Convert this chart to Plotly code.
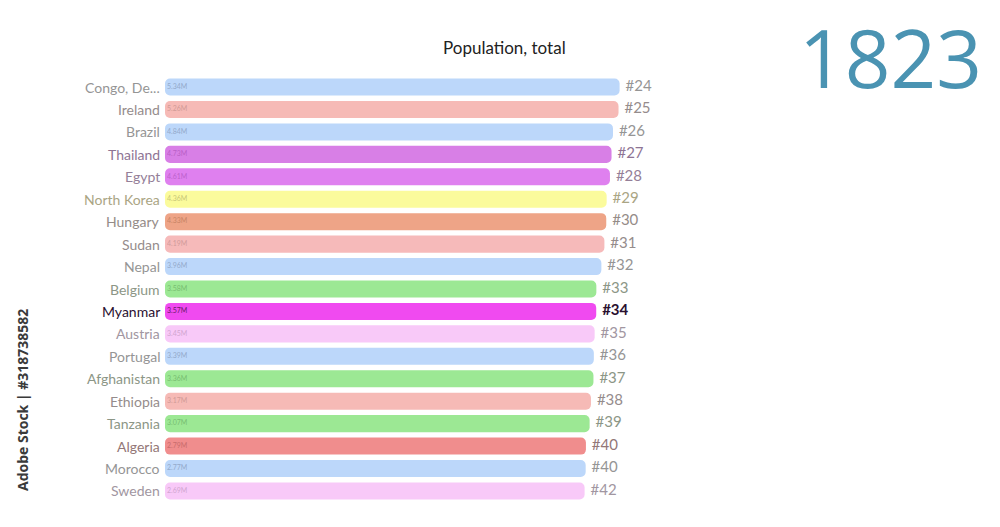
import plotly.graph_objects as go

countries = ["Congo, De...", "Ireland", "Brazil", "Thailand", "Egypt", "North Korea", "Hungary",
             "Sudan", "Nepal", "Belgium", "Myanmar", "Austria", "Portugal", "Afghanistan",
             "Ethiopia", "Tanzania", "Algeria", "Morocco", "Sweden"]
population_m = [5.34, 5.26, 4.84, 4.73, 4.61, 4.36, 4.33, 4.19, 3.96, 3.58, 3.57, 3.45, 3.39, 3.36,
                3.17, 3.07, 2.79, 2.77, 2.69]
value_labels = ["5.34M", "5.26M", "4.84M", "4.73M", "4.61M", "4.36M", "4.33M", "4.19M", "3.96M",
                "3.58M", "3.57M", "3.45M", "3.39M", "3.36M", "3.17M", "3.07M", "2.79M", "2.77M", "2.69M"]
ranks = ["#24", "#25", "#26", "#27", "#28", "#29", "#30", "#31", "#32", "#33", "#34", "#35", "#36",
         "#37", "#38", "#39", "#40", "#40", "#42"]
highlight = "Myanmar"
year = "1823"
title = "Population, total"

bar_colors = ["#bcd7fa", "#f6bab6", "#bcd7fa", "#d87fe6", "#df80ef", "#fbfb9c", "#eea487",
              "#f6baba", "#bcd7fa", "#9ce894", "#f04af0", "#f8c9f8", "#bcd7fa", "#9ce894",
              "#f6bab6", "#9ce894", "#f08d8d", "#bcd7fa", "#f8c9f8"]
text_colors = ["#959595", "#958c8c", "#959595", "#8e7494", "#957f98", "#aaa584", "#958c88",
               "#958c8c", "#959595", "#8c9686", "#2a1030", "#a196a1", "#959595", "#8c9686",
               "#958c8c", "#8c9686", "#937777", "#959595", "#a196a1"]
inner_colors = ["#94aacb", "#d19a96", "#94aacb", "#b860c6", "#bd62cd", "#c8c878", "#c88466",
                "#d19a9a", "#94aacb", "#78be72", "#6a1a6a", "#d0a6d0", "#94aacb", "#78be72",
                "#d19a96", "#78be72", "#c86c6c", "#94aacb", "#d0a6d0"]

BASE = -29.1
XMAX = 34.16

fig = go.Figure()
fig.add_trace(go.Bar(
    y=countries, x=[v - BASE for v in population_m], base=BASE, orientation="h",
    marker=dict(color=bar_colors, line=dict(width=0)), width=0.76,
    hoverinfo="skip", showlegend=False))

# value text inside bars
fig.add_trace(go.Scatter(
    y=countries, x=[BASE + 0.15] * len(countries), mode="text", text=value_labels,
    textposition="middle right", textfont=dict(size=7, color=inner_colors, family="Lato"),
    hoverinfo="skip", showlegend=False))

# rank labels
rank_text = [f"<b>{r}</b>" if c == highlight else r for r, c in zip(ranks, countries)]
fig.add_trace(go.Scatter(
    y=countries, x=[v + 0.45 for v in population_m], mode="text", text=rank_text,
    textposition="middle right",
    textfont=dict(size=15, color=text_colors, family="Lato"),
    hoverinfo="skip", showlegend=False))

annotations = []
for c, col in zip(countries, text_colors):
    annotations.append(dict(x=BASE, y=c, xref="x", yref="y", text=c, showarrow=False,
                            xanchor="right", xshift=-3,
                            font=dict(size=14, color=col, family="Lato")))

annotations.append(dict(x=504 / 1000, y=1 - 47 / 527, xref="paper", yref="paper", text=title,
                        showarrow=False, xanchor="center", yanchor="middle",
                        font=dict(size=17, color="#222222", family="Lato")))
annotations.append(dict(x=890 / 1000, y=1.0, xref="paper", yref="paper", text=year,
                        showarrow=False, xanchor="center", yanchor="top",
                        font=dict(size=80, color="#4a93b2", family="Open Sans")))
annotations.append(dict(x=22 / 1000, y=1 - 400 / 527, xref="paper", yref="paper",
                        text="<b>Adobe Stock | #318738582</b>", showarrow=False, textangle=-90,
                        xanchor="center", yanchor="middle",
                        font=dict(size=14, color="#3a3a3a", family="Open Sans")))

fig.update_layout(
    width=1000, height=527, margin=dict(l=0, r=0, t=0, b=0),
    paper_bgcolor="white", plot_bgcolor="white",
    barcornerradius=5,
    xaxis=dict(range=[BASE, XMAX], domain=[0.165, 1.0], visible=False, fixedrange=True),
    yaxis=dict(autorange=False, range=[len(countries) - 0.5, -0.5],
               domain=[1 - 502.2 / 527, 1 - 75.8 / 527], visible=False,
               categoryorder="array", categoryarray=countries),
    annotations=annotations,
)

fig.write_html("out.html")
